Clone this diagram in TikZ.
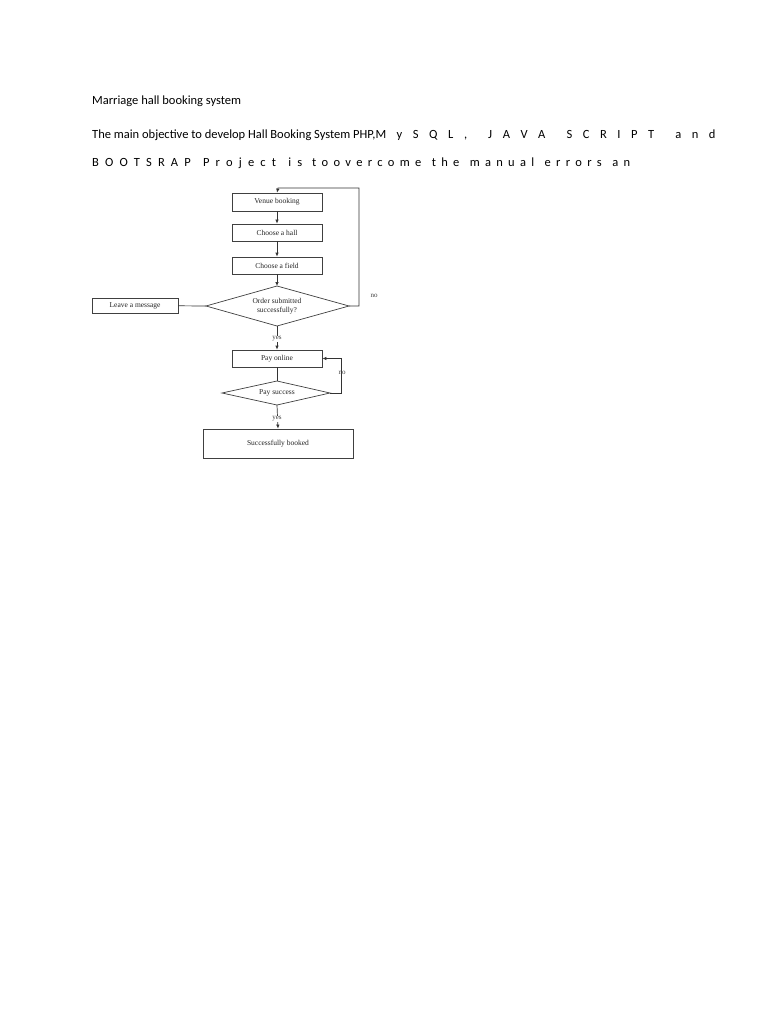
\documentclass[tikz,border=0pt]{standalone}
\usepackage{fontspec}
\setmainfont{Carlito}
\newfontfamily\fserif{Liberation Serif}
\usetikzlibrary{arrows.meta}
\begin{document}
\begin{tikzpicture}[x=1pt,y=-1pt,
  box/.style={draw=black!75,line width=0.7pt,inner sep=0,font=\fserif\fontsize{7.5}{8}\selectfont,text=black!85},
  dia/.style={draw=black!75,line width=0.7pt,font=\fserif\fontsize{7.5}{8.5}\selectfont,text=black!85,align=center},
  ln/.style={draw=black!80,line width=0.7pt},
  arr/.style={ln,-{Latex[length=4pt,width=3.5pt]}},
  lab/.style={font=\fserif\fontsize{7}{8}\selectfont,text=black!75,inner sep=0},
  hd/.style={anchor=base west,inner sep=0,font=\fontsize{12.5}{14}\selectfont}]
\useasboundingbox (0,0) rectangle (768,1024);
\fill[white] (0,0) rectangle (768,1024);
\node[hd] (t1) at (92,105) {Marriage hall booking system};
\node[hd] (t2) at (92,139) {The main objective to develop Hall Booking System PHP,\makebox[340pt][s]{M\hfill y\hfill S\hfill Q\hfill L\hfill ,\hfill\hfill J\hfill A\hfill V\hfill A\hfill\hfill S\hfill C\hfill R\hfill I\hfill P\hfill T\hfill\hfill a\hfill n\hfill d}};
\node[hd] (t3) at (92,167) {\makebox[210pt][s]{B\hfill O\hfill O\hfill T\hfill S\hfill R\hfill A\hfill P\hfill\hfill P\hfill r\hfill o\hfill j\hfill e\hfill c\hfill t\hfill\hfill i\hfill s}\hspace{10pt}\makebox[318pt][s]{t\hfill o\hfill o\hfill v\hfill e\hfill r\hfill c\hfill o\hfill m\hfill e\hfill\hfill t\hfill h\hfill e\hfill\hfill m\hfill a\hfill n\hfill u\hfill a\hfill l\hfill\hfill e\hfill r\hfill r\hfill o\hfill r\hfill s\hfill\hfill a\hfill n}};

\node[box,minimum width=90pt,minimum height=18pt] (vb) at (277,202) {Venue booking};
\node[box,minimum width=90pt,minimum height=17pt] (ch) at (277,232.5) {Choose a hall};
\node[box,minimum width=90pt,minimum height=17pt] (cf) at (277,265.5) {Choose a field};
\path[dia] (277,286) coordinate (dt) -- (349,306) coordinate (dr) -- (277,326) coordinate (db) -- (206,306) coordinate (dl) -- cycle;
\node[font=\fserif\fontsize{7.5}{8.5}\selectfont,text=black!85,align=center] (os) at (277,306) {Order submitted\\successfully?};
\node[box,minimum width=86pt,minimum height=15pt] (lm) at (135,305.5) {Leave a message};
\node[box,minimum width=90pt,minimum height=17pt] (po) at (277,358.5) {Pay online};
\path[dia] (277,381) coordinate (pt) -- (330,393) coordinate (pr) -- (277,405) coordinate (pb) -- (222,393) coordinate (pl) -- cycle;
\node[font=\fserif\fontsize{7.5}{8.5}\selectfont,text=black!85] (ps) at (277,393) {Pay success};
\node[box,minimum width=150pt,minimum height=29pt] (sb) at (278,443.5) {Successfully booked};

\draw[arr] (vb) -- (ch);
\draw[arr] (ch) -- (cf);
\draw[arr] (cf) -- (dt);
\draw[ln] (lm) -- (dl);
\draw[arr] (dr) -- (359,306) -- (359,188) -- (278,188) -- (vb.north);
\node[lab] (no1) at (374,296) {no};
\draw[arr] (db) -- (po.north);
\node[lab,fill=white,inner sep=1pt] (y1) at (277,339) {yes};
\draw[ln] (po) -- (pt);
\draw[arr] (pr) -- (341,393) -- (341,358.5) -- (po.east);
\node[lab] (no2) at (342,373) {no};
\draw[arr] (pb) -- (sb.north);
\node[lab,fill=white,inner sep=1pt] (y2) at (277,419) {yes};
\end{tikzpicture}
\end{document}
